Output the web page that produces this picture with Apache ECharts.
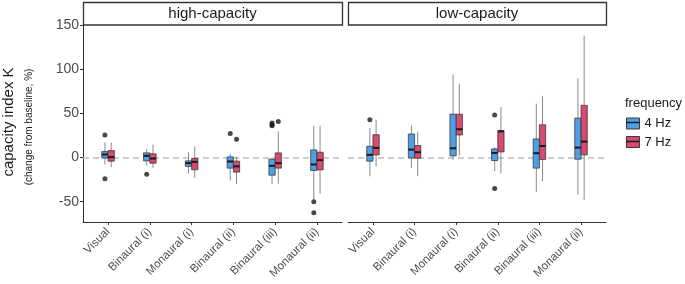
<!DOCTYPE html>
<html>
<head>
<meta charset="utf-8">
<script src="https://cdn.jsdelivr.net/npm/echarts@6/dist/echarts.min.js"></script>
<style>
  html, body { margin: 0; padding: 0; background: #fff; }
  #main { width: 685px; height: 284px; }
</style>
</head>
<body>
<div id="main"></div>
<script>
var categories = ['Visual', 'Binaural (i)', 'Monaural (i)', 'Binaural (ii)', 'Binaural (iii)', 'Monaural (ii)']
var yTicks = [-50, 0, 50, 100, 150]

// [lower whisker, q1, median, q3, upper whisker] per category
var highFour = [
  [-8, -0.5, 3.4, 6.7, 17],
  [-9, -3.8, 1.9, 5.2, 9.7],
  [-18, -10, -6.4, -3.8, 6],
  [-26, -12, -4.5, 0.7, 4],
  [-30, -20, -9.4, -1.9, 0],
  [-48, -14.6, -7.9, 8.6, 36]
]
var highSeven = [
  [-11, -4.1, 0.4, 7.9, 17],
  [-11.6, -6.4, -1.1, 4.1, 14.6],
  [-22.8, -13.9, -4.9, -1.1, 12.4],
  [-30, -16.5, -10, -4.1, 1],
  [-29.6, -12, -6.4, 5.2, 29.6],
  [-41, -14, -3, 6, 36]
]
var lowFour = [
  [-21.3, -4.1, 3, 12.7, 33.3],
  [-11.6, -0.4, 9, 26.6, 36.7],
  [-2.6, 1.9, 10.5, 49, 94],
  [-15.7, -3.4, 5.2, 9.7, 11.6],
  [-39, -12, 4.9, 21, 61],
  [-42, -1.9, 11.2, 44.6, 90]
]
var lowSeven = [
  [-10, 3, 10.9, 25.8, 42.7],
  [-21, -0.8, 6, 13.5, 29],
  [2.2, 25.5, 32, 49, 83.5],
  [-18, 6.4, 29.6, 30.3, 57],
  [-27, -2.2, 13, 37, 69.7],
  [-48, 3, 18, 59, 138]
]
// outliers: [category index, value]
var highFourOut = [[0, 25.5], [0, -24], [1, -19], [3, 27.3], [4, 39], [4, 37], [4, 36], [5, -50], [5, -62.6]]
var highSevenOut = [[3, 20.6], [4, 40.8]]
var lowFourOut = [[0, 42.7], [3, 48], [3, -35]]
var lowSevenOut = []

var colFour = '#4da0e8'
var colSeven = '#da4a6e'
var dodge = 0.075
var boxW = 0.15
var font = 'Liberation Sans, Arial, sans-serif'

function toItems(rows, off) {
  return rows.map(function(r, i) { return [i + off].concat(r) })
}
function toPoints(rows, off) {
  return rows.map(function(r) { return [r[0] + off, r[1]] })
}

function renderBox(params, api) {
  var x = api.value(0)
  var lo = api.coord([x, api.value(1)])
  var q1 = api.coord([x, api.value(2)])
  var med = api.coord([x, api.value(3)])
  var q3 = api.coord([x, api.value(4)])
  var hi = api.coord([x, api.value(5)])
  var w = api.size([boxW, 0])[0]
  return {
    type: 'group',
    children: [
      { type: 'line', shape: { x1: lo[0], y1: lo[1], x2: hi[0], y2: hi[1] },
        style: { stroke: '#8a8a8a', lineWidth: 1 } },
      { type: 'rect', shape: { x: q3[0] - w / 2, y: q3[1], width: w, height: q1[1] - q3[1] },
        style: { fill: api.visual('color'), stroke: '#3a3a3a', lineWidth: 0.8 } },
      { type: 'line', shape: { x1: med[0] - w / 2, y1: med[1], x2: med[0] + w / 2, y2: med[1] },
        style: { stroke: '#1a1a1a', lineWidth: 2 } }
    ]
  }
}

function boxSeries(name, idx, rows, off, color, zeroLine) {
  var s = {
    name: name,
    type: 'custom',
    xAxisIndex: idx,
    yAxisIndex: idx,
    renderItem: renderBox,
    itemStyle: { color: color },
    encode: { x: 0, y: [1, 2, 3, 4, 5] },
    data: toItems(rows, off),
    z: 3
  }
  if (zeroLine) {
    s.markLine = {
      silent: true,
      symbol: 'none',
      label: { show: false },
      lineStyle: { color: '#bdbdbd', type: [6, 4], width: 1.5 },
      data: [{ yAxis: 0 }],
      z: 1
    }
  }
  return s
}

function outSeries(idx, rows, off) {
  return {
    type: 'scatter',
    xAxisIndex: idx,
    yAxisIndex: idx,
    symbolSize: 5,
    itemStyle: { color: '#1a1a1a' },
    data: toPoints(rows, off),
    z: 4
  }
}

function xAxisOpt(idx) {
  return {
    type: 'value',
    gridIndex: idx,
    min: -0.6,
    max: 5.6,
    splitLine: { show: false },
    axisLine: { onZero: false, lineStyle: { color: '#333', width: 1 } },
    axisTick: { show: true, length: 3, lineStyle: { color: '#333' }, customValues: [0, 1, 2, 3, 4, 5] },
    axisLabel: {
      customValues: [0, 1, 2, 3, 4, 5],
      rotate: 45,
      margin: 8,
      color: '#4d4d4d',
      fontFamily: font,
      fontSize: 11.5,
      formatter: function(v) { return categories[Math.round(v)] }
    }
  }
}

function yAxisOpt(idx, visible) {
  return {
    type: 'value',
    gridIndex: idx,
    min: -73,
    max: 150,
    splitLine: { show: false },
    axisLine: { show: visible, onZero: false, lineStyle: { color: '#333', width: 1 } },
    axisTick: { show: visible, length: 3, lineStyle: { color: '#333' }, customValues: yTicks },
    axisLabel: {
      show: visible,
      customValues: yTicks,
      margin: 4,
      color: '#4d4d4d',
      fontFamily: font,
      fontSize: 14
    }
  }
}

var chart = echarts.init(document.getElementById('main'))
chart.setOption({
  animation: false,
  backgroundColor: '#fff',
  grid: [
    { left: 83, top: 25, width: 259, height: 197 },
    { left: 348, top: 25, width: 258, height: 197 }
  ],
  xAxis: [xAxisOpt(0), xAxisOpt(1)],
  yAxis: [yAxisOpt(0, true), yAxisOpt(1, false)],
  legend: {
    orient: 'vertical',
    left: 626,
    top: 117,
    padding: 0,
    itemWidth: 13,
    itemHeight: 11,
    itemGap: 5.5,
    textStyle: { fontFamily: font, fontSize: 13, color: '#1a1a1a' },
    itemStyle: { borderColor: '#3a3a3a', borderWidth: 1 },
    data: [
      { name: '4 Hz', icon: 'rect' },
      { name: '7 Hz', icon: 'rect' }
    ]
  },
  graphic: [
    { type: 'rect', shape: { x: 83.5, y: 2.5, width: 259, height: 22.5 },
      style: { fill: '#fff', stroke: '#333', lineWidth: 1.3 } },
    { type: 'rect', shape: { x: 348.5, y: 2.5, width: 258, height: 22.5 },
      style: { fill: '#fff', stroke: '#333', lineWidth: 1.3 } },
    { type: 'text', x: 212.5, y: 13.5,
      style: { text: 'high-capacity', fontFamily: font, fontSize: 15, fill: '#1a1a1a', align: 'center', verticalAlign: 'middle' } },
    { type: 'text', x: 477, y: 13.5,
      style: { text: 'low-capacity', fontFamily: font, fontSize: 15, fill: '#1a1a1a', align: 'center', verticalAlign: 'middle' } },
    { type: 'text', x: 9, y: 122, rotation: Math.PI / 2,
      style: { text: 'capacity index K', fontFamily: font, fontSize: 15, fill: '#1a1a1a', align: 'center', verticalAlign: 'middle' } },
    { type: 'text', x: 29, y: 127, rotation: Math.PI / 2,
      style: { text: '(change from baseline, %)', fontFamily: font, fontSize: 10, fill: '#1a1a1a', align: 'center', verticalAlign: 'middle' } },
    { type: 'text', x: 625, y: 103,
      style: { text: 'frequency', fontFamily: font, fontSize: 13, fill: '#1a1a1a', align: 'left', verticalAlign: 'middle' } },
    // median stroke across the legend keys
    { type: 'line', z: 100, shape: { x1: 626, y1: 122.5, x2: 639, y2: 122.5 }, style: { stroke: '#1a1a1a', lineWidth: 1.5 } },
    { type: 'line', z: 100, shape: { x1: 626, y1: 141.5, x2: 639, y2: 141.5 }, style: { stroke: '#1a1a1a', lineWidth: 1.5 } }
  ],
  series: [
    boxSeries('4 Hz', 0, highFour, -dodge, colFour, true),
    boxSeries('7 Hz', 0, highSeven, dodge, colSeven, false),
    boxSeries('4 Hz', 1, lowFour, -dodge, colFour, true),
    boxSeries('7 Hz', 1, lowSeven, dodge, colSeven, false),
    outSeries(0, highFourOut, -dodge),
    outSeries(0, highSevenOut, dodge),
    outSeries(1, lowFourOut, -dodge),
    outSeries(1, lowSevenOut, dodge)
  ]
})
</script>
</body>
</html>
